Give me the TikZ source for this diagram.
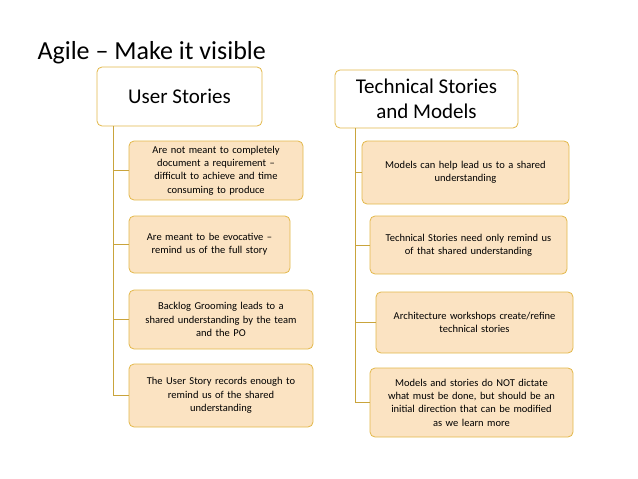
\documentclass[tikz,border=0pt]{standalone}
\usepackage{fontspec}
\setmainfont{Carlito}
\definecolor{gold}{HTML}{E2B84A}
\definecolor{peach}{HTML}{FBE3C2}
\definecolor{trunk}{HTML}{C9A43C}
\tikzset{
  head/.style={draw=gold, fill=white, rounded corners=5pt, align=center,
    font=\fontsize{21}{25}\selectfont, line width=0.8pt},
  item/.style={draw=gold, fill=peach, rounded corners=5pt, align=center,
    font=\fontsize{10.5}{13.3}\selectfont, line width=0.8pt, inner sep=2pt},
  link/.style={draw=trunk, line width=0.8pt}
}
\begin{document}
\begin{tikzpicture}[x=1pt,y=-1pt]
   \useasboundingbox (0,0) rectangle (638,479);
   \node[anchor=base west, font=\fontsize{26}{30}\selectfont] (title) at (34,59) {Agile -- Make it visible};
   % left column
   \node[head, minimum width=165, minimum height=59] (us) at (179.5,96.5) {User Stories};
   \node[item, minimum width=174, minimum height=59, text width=170] (us1) at (216,170.5) {Are not meant to completely\\document a requirement --\\difficult to achieve and time\\consuming to produce};
   \node[item, minimum width=161, minimum height=57, text width=157] (us2) at (209.5,244.5) {Are meant to be evocative --\\remind us of the full story};
   \node[item, minimum width=184, minimum height=59, text width=180] (us3) at (221,319.5) {Backlog Grooming leads to a\\shared understanding by the team\\and the PO};
   \node[item, minimum width=184, minimum height=63, text width=180] (us4) at (221,395.5) {The User Story records enough to\\remind us of the shared\\understanding};
   \coordinate (ust) at (113,126);
   \foreach \n in {us1,us2,us3,us4} \draw[link] (ust) |- (\n.west);
   % right column
   \node[head, minimum width=183, minimum height=58] (ts) at (426.5,99) {Technical Stories\\and Models};
   \node[item, minimum width=207, minimum height=63, text width=203] (ts1) at (465.5,172.5) {Models can help lead us to a shared\\understanding};
   \node[item, minimum width=197, minimum height=58, text width=193] (ts2) at (468.5,245) {Technical Stories need only remind us\\of that shared understanding};
   \node[item, minimum width=197, minimum height=61, text width=193] (ts3) at (474.5,322.5) {Architecture workshops create/refine\\technical stories};
   \node[item, minimum width=203, minimum height=69, text width=199] (ts4) at (471.5,402.5) {Models and stories do NOT dictate\\what must be done, but should be an\\initial direction that can be modified\\as we learn more};
   \coordinate (tst) at (355,128);
   \foreach \n in {ts1,ts2,ts3,ts4} \draw[link] (tst) |- (\n.west);
\end{tikzpicture}
\end{document}
